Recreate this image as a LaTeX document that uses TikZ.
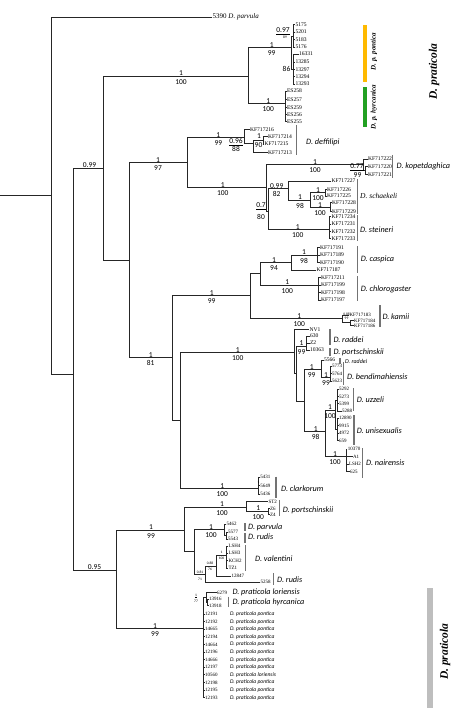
\documentclass[tikz,border=0pt]{standalone}
\usepackage{fontspec}
\setmainfont{Liberation Serif}
\newfontfamily\calfont{Carlito}
\newcommand{\tipfont}{\fontsize{5.6}{6}\selectfont}
\newcommand{\tipsmallfont}{\fontsize{5}{5.5}\selectfont}
\newcommand{\bsfont}{\calfont\fontsize{7.5}{8}\selectfont}
\newcommand{\bstinyfont}{\calfont\fontsize{3.6}{4}\selectfont}
\newcommand{\spfont}{\calfont\itshape\fontsize{8.2}{9}\selectfont}
\newcommand{\spsmallfont}{\calfont\itshape\fontsize{5.6}{6}\selectfont}
\definecolor{ponticaorange}{HTML}{FFBA00}
\definecolor{hyrcgreen}{HTML}{22A022}
\definecolor{pratgray}{HTML}{BEBEBE}

\begin{document}
\begin{tikzpicture}[x=1pt,y=-1pt]
    % Styles
    \tikzset{
      br/.style={line width=0.7pt, draw=black!85},
      tip/.style={anchor=west, inner sep=0.3pt, font=\tipfont},
      tipsmall/.style={anchor=west, inner sep=0.3pt, font=\tipsmallfont},
      bs/.style={inner sep=0pt, font=\bsfont},
      bstiny/.style={inner sep=0pt, font=\bstinyfont},
      splab/.style={anchor=west, inner sep=0pt, font=\spfont},
      splabsmall/.style={anchor=west, inner sep=0pt, font=\spsmallfont},
      spbar/.style={line width=1.1pt, draw=black!55},
    }
    \useasboundingbox (0,0) rectangle (474,711);

    % --- Internal nodes ---
    \coordinate (rootL) at (0,195.7);
    \coordinate (nR) at (51.7,195.7);
    \coordinate (nA) at (73.3,374);
    \coordinate (n099) at (103.3,168);
    \coordinate (n095) at (116.7,570);
    \coordinate (nPP) at (248.3,76);
    \coordinate (nB) at (129,260);
    \coordinate (nPon) at (291.7,47.7);
    \coordinate (nHyr) at (285,103.3);
    \coordinate (n097) at (293.7,36);
    \coordinate (n086) at (293.7,69);
    \coordinate (nC) at (187.7,162.7);
    \coordinate (nD) at (172.3,357.3);
    \coordinate (nDef) at (244.3,137.3);
    \coordinate (nK) at (266.7,187.7);
    \coordinate (nD096) at (253.3,143);
    \coordinate (n090) at (263,140.3);
    \coordinate (nKop) at (363.3,164.3);
    \coordinate (n077) at (365,170.5);
    \coordinate (n07) at (268.3,211);
    \coordinate (nS) at (288.3,188.3);
    \coordinate (nS2) at (310.7,200);
    \coordinate (nS3) at (325,192.7);
    \coordinate (nS4) at (330,207.3);
    \coordinate (nSt) at (329.3,229.3);
    \coordinate (nE) at (250.7,295.7);
    \coordinate (nF) at (180.3,420);
    \coordinate (nEC) at (260,273.3);
    \coordinate (nKam) at (342.7,318.3);
    \coordinate (nKam2) at (350,322.5);
    \coordinate (nCas) at (291.7,262.7);
    \coordinate (nCas2) at (317.7,255);
    \coordinate (nChl) at (318.3,285);
    \coordinate (nRad) at (294,352.7);
    \coordinate (nX) at (296.7,373.3);
    \coordinate (n630) at (306.7,346);
    \coordinate (nY) at (304,401.7);
    \coordinate (nBen) at (321.7,369.3);
    \coordinate (nBen2) at (330,377.5);
    \coordinate (nU) at (325.7,431.7);
    \coordinate (nUU) at (335.7,410);
    \coordinate (nUz) at (337.3,400.5);
    \coordinate (nUn) at (337.3,429.5);
    \coordinate (nNai) at (346,456.7);
    \coordinate (nClk) at (258.3,488.3);
    \coordinate (nG) at (184.3,530);
    \coordinate (nPr) at (203.3,628.3);
    \coordinate (nPo) at (246.7,507);
    \coordinate (nH) at (194.3,551.7);
    \coordinate (nZ) at (268.3,511);
    \coordinate (nPv) at (224,529.3);
    \coordinate (nPv2) at (226,535.5);
    \coordinate (nI) at (205,574);
    \coordinate (nJ) at (216,566);
    \coordinate (nVal) at (226,555);
    \coordinate (nLor) at (206,597.5);
    \coordinate (nLor2) at (207.5,602.3);

    % --- Branches between internal nodes ---
    \draw[br] (rootL) -- (nR);
    \foreach \p/\c in {nR/nA, nA/n099, nA/n095, n099/nPP, n099/nB, nPP/nPon, nPP/nHyr,
      nPon/n097, nPon/n086, nB/nC, nB/nD, nC/nDef, nC/nK, nDef/nD096, nD096/n090,
      nK/nKop, nKop/n077, nK/n07, n07/nS, nS/nS2, nS2/nS3, nS2/nS4, n07/nSt,
      nD/nE, nD/nF, nE/nEC, nE/nKam, nKam/nKam2, nEC/nCas, nCas/nCas2, nEC/nChl,
      nF/nRad, nRad/nX, nX/n630, nX/nY, nY/nBen, nBen/nBen2, nY/nU, nU/nUU,
      nUU/nUz, nUU/nUn, nU/nNai, nF/nClk, n095/nG, n095/nPr, nG/nPo, nG/nH,
      nPo/nZ, nH/nPv, nPv/nPv2, nH/nI, nI/nJ, nJ/nVal, nPr/nLor, nLor/nLor2}
      \draw[br] (\p) |- (\c);

    % --- Tips ---
    \node[anchor=west, inner sep=0.5pt, font=\fontsize{7}{8}\selectfont] (t5390) at (212,17.3) {5390 \textit{D. parvula}};
    \draw[br] (nR) |- (t5390.west);

    % p. pontica / p. hyrcanica
    \foreach \t/\y in {5175/24.7, 5201/32, 5183/39.3, 5176/47}
      {\node[tip] (t\t) at (295,\y) {\t}; \draw[br] (n097) |- (t\t.west);}
    \foreach \t/\x/\y in {16331/298.5/54, 13285/295/62, 13297/295/69.3, 13294/295/76.7, 13293/295/84}
      {\node[tip] (t\t) at (\x,\y) {\t}; \draw[br] (n086) |- (t\t.west);}
    \foreach \t/\y in {ES258/91, ES257/99.7, ES259/107.3, ES256/114.5, ES255/121.5}
      {\node[tip] (t\t) at (286.5,\y) {\t}; \draw[br] (nHyr) |- (t\t.west);}

    % deffilipi
    \foreach \p/\t/\x/\y in {nDef/KF717216/249.5/129.3, n090/KF717214/267.5/136.7,
      n090/KF717215/264/144, nD096/KF717213/267.5/152.3}
      {\node[tip] (t\t) at (\x,\y) {\t}; \draw[br] (\p) |- (t\t.west);}

    % kopetdaghica, schaekeli, steineri
    \foreach \p/\t/\x/\y in {nKop/KF717222/367.5/159, n077/KF717220/367.5/166.5,
      n077/KF717221/367.5/174.3, nS/KF717227/331/181, nS3/KF717226/326.5/189.3,
      nS3/KF717225/326.5/196, nS4/KF717228/331.5/202.5, nS4/KF717229/331.5/211.7,
      nSt/KF717234/331/216.7, nSt/KF717231/331/224, nSt/KF717232/331/231.3,
      nSt/KF717233/331/238.5}
      {\node[tip] (t\t) at (\x,\y) {\t}; \draw[br] (\p) |- (t\t.west);}

    % caspica, chlorogaster
    \foreach \p/\t/\x/\y in {nCas2/KF717191/319.5/247.3, nCas2/KF717189/319.5/255,
      nCas2/KF717190/319.5/262.7, nCas/KF717187/316/270, nChl/KF717211/320.5/277.3,
      nChl/KF717199/320.5/285, nChl/KF717198/320.5/292.7, nChl/KF717197/320.5/300}
      {\node[tip] (t\t) at (\x,\y) {\t}; \draw[br] (\p) |- (t\t.west);}

    % kamii
    \foreach \p/\t/\x/\y in {nKam/KF717183/349/315, nKam2/KF717184/353.5/320.5, nKam2/KF717186/353.5/325.5}
      {\node[tipsmall] (t\t) at (\x,\y) {\t}; \draw[br] (\p) |- (t\t.west);}

    % raddei, portschinskii, bendimahiensis
    \foreach \p/\t/\x/\y in {nRad/NV1/309/329.3, n630/630/309.5/336, n630/Z2/309.5/343,
      n630/10363/309.5/350, nBen/5566/323.5/360}
      {\node[tip] (t\t) at (\x,\y) {\t}; \draw[br] (\p) |- (t\t.west);}
    \foreach \p/\t/\x/\y in {nBen2/5773/331.5/366, nBen2/5764/331.5/373.5, nBen2/5623/331.5/381,
      nUz/5292/338.5/389.3, nUz/5273/338.5/396.5, nUz/5399/338.5/403.8, nUz/5288/341.5/411.3,
      nUn/12890/338.5/418.3, nUn/9915/338.5/425.8, nUn/4972/338.5/433.3, nUn/659/338.5/440.7}
      {\node[tipsmall] (t\t) at (\x,\y) {\t}; \draw[br] (\p) |- (t\t.west);}

    % nairensis, clarkorum, portschinskii
    \foreach \p/\t/\x/\y in {nNai/10370/347.3/449.3, nNai/A1/352.5/456.7, nNai/LSH2/348.5/464,
      nNai/625/349.5/471.7, nClk/5431/259.8/477, nClk/5649/259.8/485.5, nClk/5436/259.8/494,
      nPo/ST2/268/501.7, nZ/Z6/269.5/508.5, nZ/Z4/269.5/514.5}
      {\node[tipsmall] (t\t) at (\x,\y) {\t}; \draw[br] (\p) |- (t\t.west);}

    % parvula, rudis, valentini
    \foreach \p/\t/\x/\y in {nPv/5462/226/524, nPv2/5577/227.5/532, nPv2/5543/227.5/539,
      nVal/LSH4/228/546, nVal/LSH3/228/553.3, nVal/KCH2/228/560.7, nVal/TZ1/228/568,
      nJ/12847/231/576, nI/5258/260/582}
      {\node[tipsmall] (t\t) at (\x,\y) {\t}; \draw[br] (\p) |- (t\t.west);}

    % praticola
    \foreach \p/\t/\x/\y in {nLor/6279/216.5/592.7, nLor2/13916/208.5/599, nLor2/13918/208.5/605.5}
      {\node[tipsmall] (t\t) at (\x,\y) {\t}; \draw[br] (\p) |- (t\t.west);}
    \foreach \t/\ssp [count=\i from 0] in {12191/pontica, 12192/pontica, 14665/pontica,
      12194/pontica, 14664/pontica, 12196/pontica, 14666/pontica, 12197/pontica,
      10560/loriensis, 12198/pontica, 12195/pontica, 12193/pontica}
      {\node[tipsmall] (t\t) at (204.5,{614+7.6*\i}) {\t};
       \node[splabsmall] (s\t) at (230,{614+7.6*\i}) {D. praticola \ssp};
       \draw[br] (nPr) |- (t\t.west);}

    % --- Support values (posterior / bootstrap) ---
    \foreach \x/\y/\a/\b [count=\i] in {181/76/1/100, 271.7/47.7/1/99, 268.3/103.3/1/100,
      158/162.7/1/97, 150.7/357.3/1/81, 218.3/137.3/1/99, 222.7/187.7/1/100,
      315/164.3/1/100, 276.7/188.3/0.99/82, 300/200/1/98, 318/192.7/1/100,
      320/207.3/1/100, 297.7/229.3/1/100, 211.7/295.7/1/99, 274/262.7/1/94,
      304/255/1/98, 287.3/285/1/100, 299.3/318.3/1/100, 237.7/352.7/1/100,
      301.5/346/1/99, 311.7/369.3/1/99, 326/377.5/1/99, 315.7/431.7/1/98,
      330/410/1/100, 335/456.7/1/100, 222.3/488.3/1/100, 151/530/1/99,
      155/628.3/1/99, 222/507/1/100, 258.3/511/1/100, 211/529.3/1/100}
      {\node[bs] (bsa\i) at (\x,{\y-2.7}) {\a};
       \node[bs] (bsb\i) at (\x,{\y+5.7}) {\b};}
    \node[bs] (bs099) at (89.5,165.5) {0.99};
    \node[bs] (bs095) at (94.5,567.3) {0.95};
    \node[bs] (bs097) at (283,31) {\underline{0.97}};
    \node[bstiny] (bs097b) at (285,37.3) {89};
    \node[bs] (bs086) at (286.5,69.3) {86};
    \node[bs] (bs096) at (236,142) {\underline{0.96}};
    \node[bs] (bs096b) at (236,148.5) {88};
    \node[bs] (bs090a) at (259,136) {1};
    \node[bs] (bs090) at (258.5,145.5) {90};
    \node[bs] (bs077) at (357,167.5) {\underline{0.77}};
    \node[bs] (bs077b) at (357.5,175) {99};
    \node[bs] (bs07) at (261,206.5) {\underline{0.7}};
    \node[bs] (bs07b) at (261,216.5) {80};
    \node[bstiny] (bskama) at (346.5,314.3) {0.88};
    \node[bstiny] (bskamb) at (346.5,318.8) {99};
    \node[bstiny] (bsclk) at (258.5,482.5) {1};
    \node[bstiny] (bsvala) at (221.5,552) {1};
    \node[bstiny] (bsvalb) at (221.5,558.5) {100};
    \node[bstiny] (bsja) at (210,563.5) {0.88};
    \node[bstiny] (bsjb) at (210,569.5) {76};
    \node[bstiny] (bsia) at (200,572) {0.81};
    \node[bstiny] (bsib) at (200,579) {71};
    \node[bstiny] (bslora) at (196,596) {\underline{1}};
    \node[bstiny] (bslorb) at (196,601) {77};

    % --- Species bars and names ---
    \foreach \n/\x/\ya/\yb in {deff/296.7/125/155, kop/392.7/155/178.3, sch/357.3/179.5/214,
      ste/357.3/215.5/240.5, cas/357.3/246/273.3, chl/357.3/276/301, kam/380/305/326.7,
      rad/330/329.3/345, por/330/348.3/355.5, radb/340/358/363.5, ben/343.5/362/385,
      uzz/353.3/388.3/410.7, uni/354/415/445, nai/362.7/448.3/478.3, clk/276/476.7/498,
      porb/279.3/500/515.7, par/245/523/530.7, rud/245/533/543, val/245.7/545/570.7,
      rudb/273.3/573/585, hyr/228.3/596.7/607.3}
      {\coordinate (bar\n a) at (\x,\ya); \coordinate (bar\n b) at (\x,\yb);
       \draw[spbar] (bar\n a) -- (bar\n b);}
    \node[splab] (sdeff) at (306,142.3) {D. deffilipi};
    \node[splab] (skop) at (396.5,166) {D. kopetdaghica};
    \node[anchor=west, inner sep=0pt, font=\itshape\fontsize{7.5}{8}\selectfont] (ssch) at (360,196) {D. schaekeli};
    \node[splab] (sste) at (360,229.3) {D. steineri};
    \node[splab] (scas) at (360.7,259) {D. caspica};
    \node[splab] (schl) at (360.7,289) {D. chlorogaster};
    \node[splab] (skam) at (382.3,316.7) {D. kamii};
    \node[splab] (srad) at (333.3,339.5) {D. raddei};
    \node[splab] (spor) at (333.3,352) {D. portschinskii};
    \node[anchor=west, inner sep=0pt, font=\calfont\itshape\fontsize{6}{7}\selectfont] (sradb) at (345,361.5) {D. raddei};
    \node[splab] (sben) at (347,376.7) {D. bendimahiensis};
    \node[splab] (suzz) at (356.7,400) {D. uzzeli};
    \node[splab] (suni) at (356.7,430.7) {D. unisexualis};
    \node[splab] (snai) at (366,462.7) {D. nairensis};
    \node[splab] (sclk) at (281,488.3) {D. clarkorum};
    \node[splab] (sporb) at (282.7,510.7) {D. portschinskii};
    \node[splab] (spar) at (248,527.3) {D. parvula};
    \node[splab] (srud) at (248,537) {D. rudis};
    \node[splab] (sval) at (255,558.3) {D. valentini};
    \node[splab] (srudb) at (277,579.5) {D. rudis};
    \node[splab] (slor) at (232.3,592.7) {D. praticola loriensis};
    \node[splab] (shyr) at (232.3,602.3) {D. praticola hyrcanica};

    % --- Subspecies and species blocks on the right ---
    \fill[ponticaorange] (363.3,25) rectangle (367.3,82.3);
    \fill[hyrcgreen] (363.3,87.3) rectangle (367.3,126.7);
    \node[rotate=90, inner sep=0pt, font=\bfseries\itshape\fontsize{7}{8}\selectfont] (lpon) at (374,51.7) {D. p. pontica};
    \node[rotate=90, inner sep=0pt, font=\bfseries\itshape\fontsize{7}{8}\selectfont] (lhyr) at (374,107) {D. p. hyrcanica};
    \node[rotate=90, inner sep=0pt, font=\bfseries\itshape\fontsize{11.5}{12}\selectfont] (pratTop) at (434,71.5) {D. praticola};
    \fill[pratgray] (426.7,588.3) rectangle (433.3,708.3);
    \node[rotate=90, inner sep=0pt, font=\bfseries\itshape\fontsize{11.5}{12}\selectfont] (pratBot) at (445,651.7) {D. praticola};
\end{tikzpicture}
\end{document}
